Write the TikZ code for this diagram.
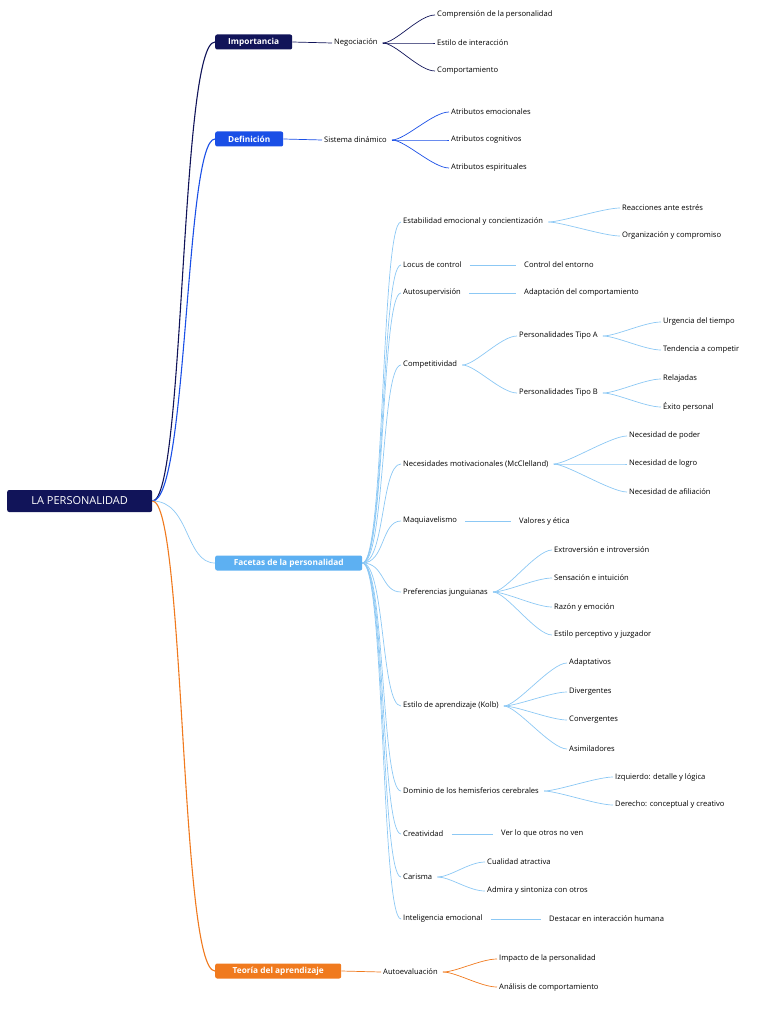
\documentclass[tikz,border=0pt]{standalone}
\usepackage{fontspec}
\setmainfont{Open Sans}
\usetikzlibrary{calc}
\definecolor{cnavy}{HTML}{111459}
\definecolor{cblue}{HTML}{1A4FE6}
\definecolor{clight}{HTML}{5DB0F2}
\definecolor{clline}{HTML}{8CC8F4}
\definecolor{corange}{HTML}{F07A1E}
\begin{document}
\begin{tikzpicture}[x=1pt,y=-1pt,
  t/.style={anchor=west,inner sep=2pt,font=\fontsize{7.6}{8}\selectfont,text=black},
  box/.style={anchor=west,rounded corners=2pt,inner sep=0pt,minimum height=15pt,text=white,font=\bfseries\fontsize{8.3}{9}\selectfont,align=center},
  ln/.style={line width=0.7pt}]
\useasboundingbox (0,0) rectangle (768,1024);
\newcommand\nd[4]{\node[t] (#1) at (#2,#3+1) {#4};}
\newcommand\cn[3]{\draw[ln,#3] ($(#1.east)+(3,0)$) .. controls ($(#1.east)+(16,0)$) and ($(#2.west)+(-16,0)$) .. (#2.west);}
% root
\node[anchor=west,fill=cnavy,text=white,rounded corners=2pt,minimum width=145pt,minimum height=22pt,inner sep=0pt,font=\fontsize{11}{12}\selectfont] (root) at (7,501) {LA PERSONALIDAD};
\node[box,fill=cnavy,minimum width=77pt] (imp) at (215,42) {Importancia};
\node[box,fill=cblue,minimum width=68pt] (def) at (215,139) {Definición};
\node[box,fill=clight,minimum width=147pt] (fac) at (215,563) {Facetas de la personalidad};
\node[box,fill=corange,minimum width=126pt] (teo) at (215,971) {Teoría del aprendizaje};
\draw[line width=1.1pt,cnavy] (root.east) .. controls (185,501) and (180,42) .. (imp.west);
\draw[line width=1.1pt,cblue] (root.east) .. controls (188,501) and (185,139) .. (def.west);
\draw[ln,clline] (root.east) .. controls (190,501) and (185,563) .. (fac.west);
\draw[line width=1.1pt,corange] (root.east) .. controls (185,501) and (180,971) .. (teo.west);
% importancia
\nd{neg}{332}{42}{Negociación}
\draw[ln,cnavy] (imp.east) -- (neg.west);
\nd{i1}{435}{14}{Comprensión de la personalidad}
\nd{i2}{435}{42}{Estilo de interacción}
\nd{i3}{435}{70}{Comportamiento}
\foreach \c in {i1,i2,i3}{\cn{neg}{\c}{cnavy}}
% definicion
\nd{sis}{322}{139}{Sistema dinámico}
\draw[ln,cblue] (def.east) -- (sis.west);
\nd{d1}{449}{111}{Atributos emocionales}
\nd{d2}{449}{139}{Atributos cognitivos}
\nd{d3}{449}{167}{Atributos espirituales}
\foreach \c in {d1,d2,d3}{\cn{sis}{\c}{cblue}}
% facetas
\nd{f1}{401}{221}{Estabilidad emocional y concientización}
\nd{f2}{401}{264}{Locus de control}
\nd{f3}{401}{292}{Autosupervisión}
\nd{f4}{401}{364}{Competitividad}
\nd{f5}{401}{463}{Necesidades motivacionales (McClelland)}
\nd{f6}{401}{520}{Maquiavelismo}
\nd{f7}{401}{591}{Preferencias junguianas}
\nd{f8}{401}{705}{Estilo de aprendizaje (Kolb)}
\nd{f9}{401}{790}{Dominio de los hemisferios cerebrales}
\nd{f10}{401}{833}{Creatividad}
\nd{f11}{401}{876}{Carisma}
\nd{f12}{401}{918}{Inteligencia emocional}
\foreach \c in {f1,f2,f3,f4,f5,f6,f7,f8,f9,f10,f11,f12}{\draw[ln,clline] (fac.east) .. controls (385,563) and ($(\c.west)+(-20,0)$) .. (\c.west);}
\nd{g1}{620}{207}{Reacciones ante estrés}
\nd{g2}{620}{235}{Organización y compromiso}
\cn{f1}{g1}{clline}\cn{f1}{g2}{clline}
\nd{g3}{522}{264}{Control del entorno}
\draw[ln,clline] ($(f2.east)+(6,0)$) -- ($(g3.west)+(-6,0)$);
\nd{g4}{522}{292}{Adaptación del comportamiento}
\draw[ln,clline] ($(f3.east)+(6,0)$) -- ($(g4.west)+(-6,0)$);
\nd{ta}{517}{335}{Personalidades Tipo A}
\nd{tb}{517}{392}{Personalidades Tipo B}
\cn{f4}{ta}{clline}\cn{f4}{tb}{clline}
\nd{a1}{661}{321}{Urgencia del tiempo}
\nd{a2}{661}{349}{Tendencia a competir}
\nd{b1}{661}{378}{Relajadas}
\nd{b2}{661}{406}{Éxito personal}
\cn{ta}{a1}{clline}\cn{ta}{a2}{clline}\cn{tb}{b1}{clline}\cn{tb}{b2}{clline}
\nd{m1}{627}{435}{Necesidad de poder}
\nd{m2}{627}{463}{Necesidad de logro}
\nd{m3}{627}{491}{Necesidad de afiliación}
\foreach \c in {m1,m2,m3}{\cn{f5}{\c}{clline}}
\nd{g6}{517}{520}{Valores y ética}
\draw[ln,clline] ($(f6.east)+(6,0)$) -- ($(g6.west)+(-6,0)$);
\nd{j1}{552}{549}{Extroversión e introversión}
\nd{j2}{552}{577}{Sensación e intuición}
\nd{j3}{552}{606}{Razón y emoción}
\nd{j4}{552}{634}{Estilo perceptivo y juzgador}
\foreach \c in {j1,j2,j3,j4}{\cn{f7}{\c}{clline}}
\nd{k1}{567}{662}{Adaptativos}
\nd{k2}{567}{691}{Divergentes}
\nd{k3}{567}{719}{Convergentes}
\nd{k4}{567}{748}{Asimiladores}
\foreach \c in {k1,k2,k3,k4}{\cn{f8}{\c}{clline}}
\nd{h1}{613}{776}{Izquierdo: detalle y lógica}
\nd{h2}{613}{804}{Derecho: conceptual y creativo}
\cn{f9}{h1}{clline}\cn{f9}{h2}{clline}
\nd{g10}{499}{833}{Ver lo que otros no ven}
\draw[ln,clline] ($(f10.east)+(6,0)$) -- ($(g10.west)+(-6,0)$);
\nd{c1}{485}{861}{Cualidad atractiva}
\nd{c2}{485}{890}{Admira y sintoniza con otros}
\cn{f11}{c1}{clline}\cn{f11}{c2}{clline}
\nd{g12}{547}{918}{Destacar en interacción humana}
\draw[ln,clline] ($(f12.east)+(6,0)$) -- ($(g12.west)+(-6,0)$);
% teoria
\nd{aut}{381}{971}{Autoevaluación}
\draw[ln,corange] (teo.east) -- (aut.west);
\nd{e1}{497}{958}{Impacto de la personalidad}
\nd{e2}{497}{986}{Análisis de comportamiento}
\cn{aut}{e1}{corange}\cn{aut}{e2}{corange}
\end{tikzpicture}
\end{document}
